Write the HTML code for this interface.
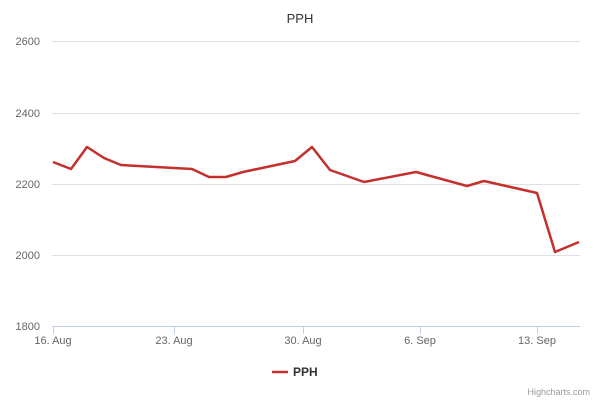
<!DOCTYPE html>
<html><head><style>body{margin:0;background:#fff}svg{display:block;font-family:"Liberation Sans",sans-serif}</style></head>
<body>
<svg width="600" height="400" viewBox="0 0 600 400">
<text x="300" y="23" text-anchor="middle" font-size="13" fill="#333">PPH</text>
<g stroke="#e0e0e0" stroke-width="1">
<line x1="52" y1="41.5" x2="580" y2="41.5"/>
<line x1="52" y1="113.5" x2="580" y2="113.5"/>
<line x1="52" y1="184.5" x2="580" y2="184.5"/>
<line x1="52" y1="255.5" x2="580" y2="255.5"/>
</g>
<line x1="52" y1="326.5" x2="580" y2="326.5" stroke="#c0d0e0"/>
<g stroke="#c0d0e0"><line x1="53.5" y1="326" x2="53.5" y2="334"/><line x1="174.5" y1="326" x2="174.5" y2="334"/><line x1="303.5" y1="326" x2="303.5" y2="334"/><line x1="420.5" y1="326" x2="420.5" y2="334"/><line x1="537.5" y1="326" x2="537.5" y2="334"/></g>
<g font-size="11" fill="#666" text-anchor="end">
<text x="40" y="45">2600</text><text x="40" y="117">2400</text><text x="40" y="188">2200</text><text x="40" y="259">2000</text><text x="40" y="330">1800</text>
</g>
<g font-size="11" fill="#666" text-anchor="middle">
<text x="53" y="344">16. Aug</text><text x="174" y="344">23. Aug</text><text x="303" y="344">30. Aug</text><text x="420" y="344">6. Sep</text><text x="537" y="344">13. Sep</text>
</g>
<polyline fill="none" stroke="#c4302b" stroke-width="2.5" stroke-linejoin="round" points="53,162 71,169 87,147 104,158 121,165 192,169 209,177 226,177 243,172 295,161 312,147 330,170 364,182 416,172 467,186 484,181 537,193 555,252 579,242"/>
<line x1="272" y1="372" x2="288" y2="372" stroke="#c4302b" stroke-width="2.5"/>
<text x="293" y="376" font-size="12" font-weight="bold" fill="#333">PPH</text>
<text x="590" y="395" text-anchor="end" font-size="9" fill="#999">Highcharts.com</text>
</svg>
</body></html>
